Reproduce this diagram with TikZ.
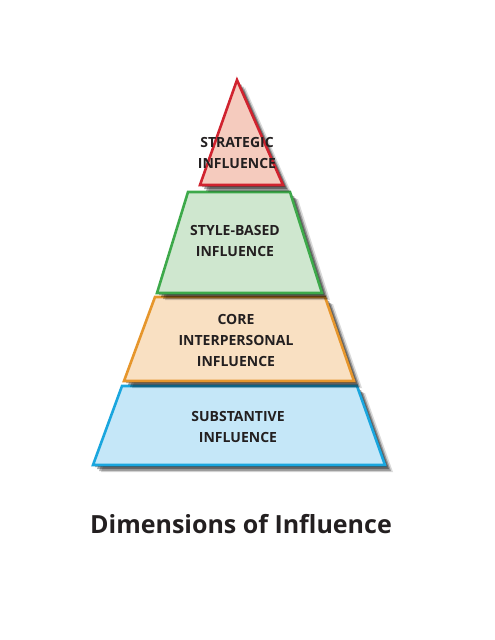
\documentclass[tikz,border=0pt]{standalone}
\usepackage{fontspec}
\setmainfont{Open Sans}
\usetikzlibrary{shadows}

\definecolor{inkdark}{HTML}{231F20}
\definecolor{stratline}{HTML}{D0232F}
\definecolor{stratfill}{HTML}{F5CBBE}
\definecolor{styleline}{HTML}{3DA94A}
\definecolor{stylefill}{HTML}{CFE7CF}
\definecolor{coreline}{HTML}{E6962C}
\definecolor{corefill}{HTML}{F9E0C2}
\definecolor{subline}{HTML}{1AA6DE}
\definecolor{subfill}{HTML}{C5E7F8}

\begin{document}
\begin{tikzpicture}[x=1pt, y=-1pt,
  layer/.style={line width=2.6pt, line join=miter,
    drop shadow={shadow xshift=2pt, shadow yshift=-2pt, opacity=.35, fill=black},
    drop shadow={shadow xshift=4pt, shadow yshift=-4pt, opacity=.35, fill=black},
    drop shadow={shadow xshift=6pt, shadow yshift=-6pt, opacity=.28, fill=black},
    drop shadow={shadow xshift=8pt, shadow yshift=-7pt, opacity=.15, fill=black}},
  tier/.style={align=center, text=inkdark, font=\fontsize{14}{21}\selectfont\bfseries}]
\useasboundingbox (0,0) rectangle (495,640);
% layers, bottom first so each shadow falls on the one below
\draw[layer, draw=subline, fill=subfill] (122,386) -- (357,386) -- (385,465) -- (93,465) -- cycle;
\draw[layer, draw=coreline, fill=corefill] (155,297) -- (325,297) -- (354,381) -- (124,381) -- cycle;
\draw[layer, draw=styleline, fill=stylefill] (188,192) -- (290,192) -- (322,293) -- (157,293) -- cycle;
\draw[layer, draw=stratline, fill=stratfill] (237,80) -- (283,185) -- (200,185) -- cycle;
% labels
\node[tier] (strat) at (237,153) {STRATEGIC\\INFLUENCE};
\node[tier] (style) at (235,241) {STYLE-BASED\\INFLUENCE};
\node[tier] (core) at (236,340) {CORE\\INTERPERSONAL\\INFLUENCE};
\node[tier] (subst) at (238,427) {SUBSTANTIVE\\INFLUENCE};
\node[text=inkdark, font=\fontsize{25}{30}\selectfont\bfseries] (title) at (241,524) {Dimensions of Influence};
\end{tikzpicture}
\end{document}
